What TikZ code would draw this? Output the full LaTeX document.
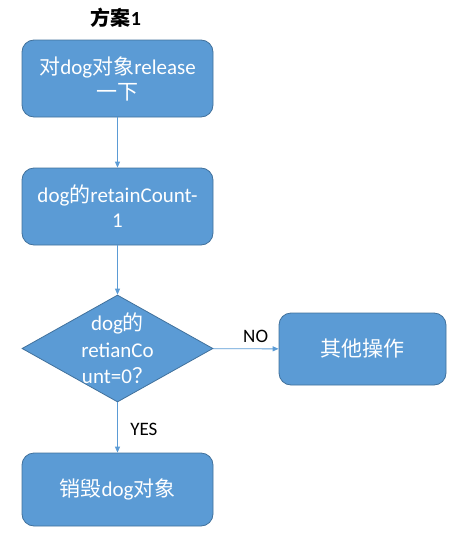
\documentclass[tikz,border=0pt]{standalone}
\usepackage{fontspec}
\setmainfont{Carlito}
\newfontfamily\cjk{Noto Sans CJK SC}
\usetikzlibrary{shapes.geometric,arrows.meta}
\definecolor{boxfill}{HTML}{5B9BD5}
\definecolor{boxline}{HTML}{41719C}
\begin{document}
\begin{tikzpicture}[x=1pt, y=-1pt,
        proc/.style={rectangle, rounded corners=12pt, draw=boxline, fill=boxfill, line width=0.8pt,
            minimum width=191pt, minimum height=77pt, align=center, text=white,
            font=\fontsize{21}{25}\selectfont},
        decide/.style={diamond, draw=boxline, fill=boxfill, line width=0.8pt, aspect=1.785,
            minimum width=191pt, minimum height=107pt, inner sep=-10pt, align=center, text=white,
            font=\fontsize{21}{26.5}\selectfont},
        flow/.style={draw=boxfill, line width=0.9pt, -{Triangle[length=6pt,width=5pt]}},
        lbl/.style={font=\fontsize{19}{21}\selectfont, text=black}
    ]
    \useasboundingbox (0,0) rectangle (474,546);
    \node[font=\fontsize{20}{22}\selectfont\bfseries] (title) at (116,18) {{\cjk 方案}1};
    \node[proc] (release) at (117.5,78.5) {{\cjk 对}dog{\cjk 对象}release\\{\cjk 一下}};
    \node[proc] (minus) at (117.5,206.5) {dog{\cjk 的}retainCount-\\1};
    \node[decide] (check) at (117.5,348.5) {dog{\cjk 的}\\retianCo\\unt=0{\cjk ？}};
    \node[proc, minimum width=167pt, minimum height=72pt] (other) at (362.5,349) {\cjk 其他操作};
    \node[proc, minimum height=73pt] (destroy) at (117.5,489.5) {{\cjk 销毁}dog{\cjk 对象}};
    \draw[flow] (release) -- (minus);
    \draw[flow] (minus) -- (check);
    \draw[flow] (check) -- node[lbl, above, pos=0.65, yshift=2pt] (no) {NO} (other);
    \draw[flow] (check) -- node[lbl, right, pos=0.53, xshift=9pt] (yes) {YES} (destroy);
\end{tikzpicture}
\end{document}
